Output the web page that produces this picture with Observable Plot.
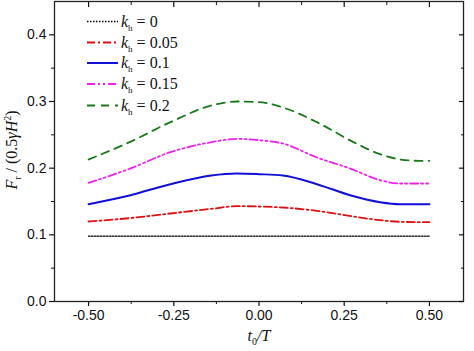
<!DOCTYPE html>
<html><head><meta charset="utf-8">
<script src="https://cdn.jsdelivr.net/npm/d3@7"></script>
<script src="https://cdn.jsdelivr.net/npm/@observablehq/plot@0.6"></script>
<style>body{margin:0;background:#fff}</style>
</head><body><div id="chart"></div>
<script>
const t0T = [-0.5,-0.38,-0.26,-0.14,-0.065,0,0.07,0.17,0.27,0.355,0.415,0.47,0.5];
const kh0   = [0.098,0.098,0.098,0.098,0.098,0.098,0.098,0.098,0.098,0.098,0.098,0.098,0.098];
const kh005 = [0.120,0.125,0.132,0.139,0.143,0.1425,0.141,0.136,0.128,0.122,0.1195,0.119,0.119];
const kh01  = [0.146,0.159,0.176,0.189,0.192,0.191,0.189,0.176,0.159,0.149,0.146,0.146,0.146];
const kh015 = [0.178,0.199,0.224,0.239,0.244,0.242,0.237,0.216,0.199,0.182,0.177,0.177,0.177];
const kh02  = [0.213,0.239,0.269,0.294,0.300,0.299,0.291,0.269,0.241,0.221,0.213,0.211,0.211];
const seriesNames = ["0","0.05","0.1","0.15","0.2"];
const seriesVals = [kh0,kh005,kh01,kh015,kh02];
const colors = ["#000000","#e01010","#1010d8","#f020f0","#1a7a1a"];
const dashes = ["1.5,1.5","8,3,2,3",null,"8,3,2,3,2,3","8,6"];
const widths = [1.4,1.8,2,1.8,1.8];
const xMajor = [-0.5,-0.25,0,0.25,0.5];
const xMinor = [-0.375,-0.125,0.125,0.375];
const yMajor = [0,0.1,0.2,0.3,0.4];
const yMinor = [0.05,0.15,0.25,0.35];

const lineMarks = seriesVals.map((vals,i) => Plot.line(
  t0T.map((x,j)=>({x, y: vals[j]})),
  {x:"x", y:"y", stroke: colors[i], strokeWidth: widths[i],
   strokeDasharray: dashes[i] || undefined, curve:"monotone-x"}));

const svg = Plot.plot({
  width: 474, height: 351,
  marginLeft: 54, marginRight: 11, marginTop: 1, marginBottom: 50,
  style: {fontFamily: "'Liberation Sans', Arial, sans-serif", fontSize: "14px", color:"#111", background:"#fff"},
  x: {domain: [-0.6, 0.6]},
  y: {domain: [0, 0.45]},
  marks: [
    ...lineMarks,
    Plot.frame({stroke:"#222", strokeWidth:1.3}),
    Plot.axisX({ticks: xMajor, tickFormat: d => d.toFixed(2), tickSize: 5, tickPadding: 4, label: null, strokeWidth: 1.2}),
    Plot.axisX({ticks: xMinor, tickFormat: () => "", tickSize: 3, label: null}),
    Plot.axisX({anchor: "top", ticks: xMajor, tickFormat: () => "", tickSize: -5, label: null, strokeWidth: 1.2}),
    Plot.axisX({anchor: "top", ticks: xMinor, tickFormat: () => "", tickSize: -3, label: null}),
    Plot.axisY({ticks: yMajor, tickFormat: d => d.toFixed(1), tickSize: 5, tickPadding: 3, label: null, strokeWidth: 1.2}),
    Plot.axisY({ticks: yMinor, tickFormat: () => "", tickSize: 3, label: null}),
    Plot.axisY({anchor: "right", ticks: yMajor, tickFormat: () => "", tickSize: -5, label: null, strokeWidth: 1.2}),
    Plot.axisY({anchor: "right", ticks: yMinor, tickFormat: () => "", tickSize: -3, label: null})
  ]
});
document.getElementById("chart").appendChild(svg);

const s = d3.select(svg);
const serif = "'Liberation Serif', 'Times New Roman', serif";
// y label
const yl = s.append("text").attr("transform","translate(17,150) rotate(-90)")
  .attr("text-anchor","middle").attr("font-family",serif).attr("font-size",16).attr("fill","#111");
yl.append("tspan").attr("font-style","italic").text("F");
yl.append("tspan").attr("font-size",10).attr("dy",4).text("r");
yl.append("tspan").attr("dy",-4).text(" / (0.5");
yl.append("tspan").attr("font-style","italic").text("γH");
yl.append("tspan").attr("font-size",10).attr("dy",-6).text("2");
yl.append("tspan").attr("dy",6).text(")");
// x label
const xl = s.append("text").attr("transform","translate(259,341)")
  .attr("text-anchor","middle").attr("font-family",serif).attr("font-size",16).attr("fill","#111");
xl.append("tspan").attr("font-style","italic").text("t");
xl.append("tspan").attr("font-size",10).attr("dy",4).text("0");
xl.append("tspan").attr("dy",-4).attr("font-style","italic").text("/T");
// legend
const legY = [21.5, 42.5, 63, 84, 105.5];
seriesNames.forEach((n,i) => {
  const g = s.append("g");
  g.append("line").attr("x1",87).attr("x2",118).attr("y1",legY[i]).attr("y2",legY[i])
    .attr("stroke",colors[i]).attr("stroke-width", widths[i])
    .attr("stroke-dasharray", dashes[i]);
  const t = g.append("text").attr("x",121).attr("y",legY[i]+5).attr("font-family",serif)
    .attr("text-anchor","start").attr("font-size",16).attr("fill","#111");
  t.append("tspan").attr("font-style","italic").text("k");
  t.append("tspan").attr("font-size",9).attr("dy",4).text("h");
  t.append("tspan").attr("dy",-4).text(" = " + n);
});
</script></body></html>
